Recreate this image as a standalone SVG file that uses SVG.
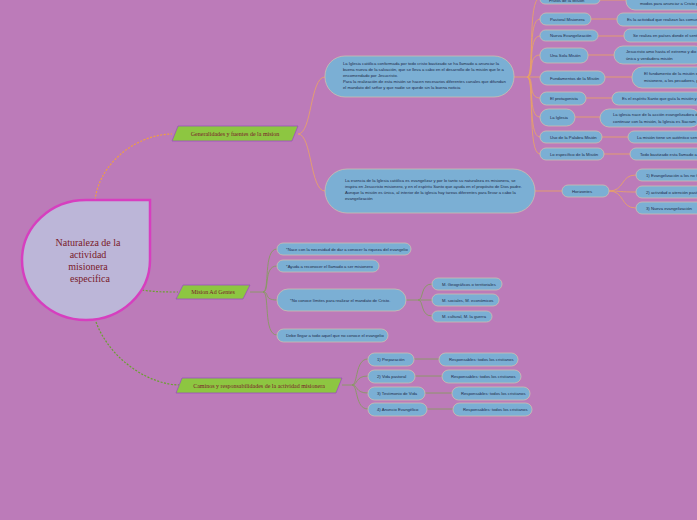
<svg xmlns="http://www.w3.org/2000/svg" width="697" height="520" viewBox="0 0 697 520">
<style>
.b{fill:#7BAFD4;stroke:#cdbfae;stroke-width:0.8}
.g{fill:#8DC641;stroke:#9b4fc0;stroke-width:0.8}
.t{font-family:"Liberation Sans Narrow","Liberation Sans",sans-serif;font-size:4.2px;fill:#1c2a48}
.gt{font-family:"Liberation Serif",serif;font-size:6px;fill:#7a1a2a;text-anchor:middle}
.co{fill:none;stroke:#E6A06A;stroke-width:0.9}
.cg{fill:none;stroke:#889a62;stroke-width:0.9}
</style>
<rect width="697" height="520" fill="#BC7BB9"/>
<g id="connectors">
<path d="M95,200 C100,160 140,134 172,134" fill="none" stroke="#F0A040" stroke-width="1.2" stroke-dasharray="2,1.5"/>
<path d="M142,290 C155,292 165,292 178,292" fill="none" stroke="#6aa030" stroke-width="1.2" stroke-dasharray="2,1.5"/>
<path d="M96,322 C110,360 150,385 180,385" fill="none" stroke="#6aa030" stroke-width="1.2" stroke-dasharray="2,1.5"/>
<path class="co" d="M298,134 C312,134 310,77 325,77 M298,134 C312,134 310,191 325,191"/>
<path class="co" d="M514,77 H527 M527,77 C535,77 527,-2 540,-2 M527,77 C535,77 527,19 540,19 M527,77 C535,77 527,36 540,36 M527,77 C535,77 527,55 540,55 M527,77 H540 M527,77 C535,77 527,98 540,98 M527,77 C535,77 527,117 540,117 M527,77 C535,77 527,137 540,137 M527,77 C535,77 527,154 540,154"/>
<path class="co" d="M600,0 H626 M591,19 H617 M598,36 H624 M588,55 H614 M605,77 H632 M586,98 H612 M575,117 H600 M602,137 H628 M604,154 H630"/>
<path class="co" d="M535,191 H562 M609,191 C625,191 620,175 636,175 M609,191 C620,191 620,192 636,192 M609,191 C625,191 620,208 636,208"/>
<path class="cg" d="M250,292 H263 M263,292 C270,292 263,249 277,249 M263,292 C270,292 263,266 277,266 M263,292 C270,292 263,300 277,300 M263,292 C270,292 263,335 277,335"/>
<path class="cg" d="M406,300 H418 M418,300 C424,300 420,284 432,284 M418,300 H432 M418,300 C424,300 420,316 432,316"/>
<path class="cg" d="M342,385 H352 M352,385 C358,385 355,359 368,359 M352,385 C358,385 355,376 368,376 M352,385 C358,385 355,393 368,393 M352,385 C358,385 355,409 368,409"/>
<path class="cg" d="M414,359 H439 M415,376 H442 M425,393 H452 M427,409 H453"/>
</g>
<g id="central">
<path d="M86,200 H150 V260 A64 60 0 1 1 86,200 Z" fill="#BCB6D8" stroke="#D63FBF" stroke-width="2.5"/>
<text class="gt" style="font-size:10px"><tspan x="88" y="246">Naturaleza de la</tspan><tspan x="88" y="258">actividad</tspan><tspan x="88" y="270">misionera</tspan><tspan x="90" y="282">especifica</tspan></text>
</g>
<g id="generalidades"><polygon class="g" points="178,126 298,126 292,141 172,141"/><text class="gt" x="235" y="136">Generalidades y fuentes de la mision</text></g>
<g id="mision"><polygon class="g" points="183,285 250,285 243,299 176,299"/><text class="gt" x="213" y="294">Mision Ad Gentes</text></g>
<g id="caminos"><polygon class="g" points="182,378 342,378 336,393 176,393"/><text class="gt" x="259" y="388">Caminos y responsabilidades de la actividad misionera</text></g>
<g id="nA"><rect class="b" x="325" y="56" width="189" height="41" rx="20"/><text class="t"><tspan x="343" y="65">La Iglesia católica conformada por todo cristo bautizado se ha llamado a anunciar la</tspan><tspan x="343" y="71">buena nueva de la salvación, que se lleva a cabo en el desarrollo de la misión que le a</tspan><tspan x="343" y="77">encomendado por Jesucristo.</tspan><tspan x="343" y="83">Para la realización de esta misión se hacen necesarios diferentes canales que difundan</tspan><tspan x="343" y="89">el mandato del señor y que nadie se quede sin la buena noticia</tspan></text></g>
<g id="nB"><rect class="b" x="325" y="169" width="210" height="44" rx="22"/><text class="t"><tspan x="345" y="182">La esencia de la Iglesia católica es evangelizar y por lo tanto su naturaleza es misionera, se</tspan><tspan x="345" y="188">inspira en Jesucristo misionero, y en el espíritu Santo que ayuda en el propósito de Dios padre.</tspan><tspan x="345" y="194">Aunque la misión es única, al interior de la iglesia hay tareas diferentes para llevar a cabo la</tspan><tspan x="345" y="200">evangelización</tspan></text></g>
<g id="r0"><rect class="b" x="540" y="-6" width="60" height="10" rx="5"/><text class="t" x="549" y="2">Frutos de la Misión</text><rect class="b" x="626" y="-8" width="80" height="18" rx="9"/><text class="t" x="640" y="5">modos para anunciar a Cristo p</text></g>
<g id="r1"><rect class="b" x="540" y="13" width="51" height="12" rx="6"/><text class="t" x="550" y="20.5">Pastoral Misionera</text><rect class="b" x="617" y="13" width="90" height="13" rx="6"/><text class="t" x="627" y="21">Es la actividad que realizan las comunidades</text></g>
<g id="r2"><rect class="b" x="540" y="30" width="58" height="11" rx="5.5"/><text class="t" x="550" y="37">Nueva Evangelización</text><rect class="b" x="624" y="29" width="80" height="13" rx="6"/><text class="t" x="633" y="37">Se realiza en países donde el sentido</text></g>
<g id="r3"><rect class="b" x="540" y="48" width="48" height="15" rx="7"/><text class="t" x="550" y="57">Una Sola Misión</text><rect class="b" x="614" y="46" width="90" height="18" rx="9"/><text class="t"><tspan x="626" y="53">Jesucristo amo hasta el extremo y dio p</tspan><tspan x="626" y="60">única y verdadera misión</tspan></text></g>
<g id="r4"><rect class="b" x="540" y="71" width="65" height="14" rx="7"/><text class="t" x="550" y="79.5">Fundamentos de la Misión</text><rect class="b" x="632" y="67" width="80" height="21" rx="10"/><text class="t"><tspan x="644" y="75">El fundamento de la misión e</tspan><tspan x="644" y="82">misionero, a los pecadores, pa</tspan></text></g>
<g id="r5"><rect class="b" x="540" y="92" width="46" height="13" rx="6.5"/><text class="t" x="550" y="100">El protagonista</text><rect class="b" x="612" y="92" width="95" height="13" rx="6.5"/><text class="t" x="622" y="100">Es el espíritu Santo que guía la misión y es</text></g>
<g id="r6"><rect class="b" x="540" y="109" width="35" height="17" rx="8.5"/><text class="t" x="550" y="119">La Iglesia</text><rect class="b" x="600" y="109" width="100" height="18" rx="9"/><text class="t"><tspan x="613" y="116">La iglesia nace de la acción evangelizadora de J</tspan><tspan x="613" y="123">continuar con la misión, la Iglesia es Sacram</tspan></text></g>
<g id="r7"><rect class="b" x="540" y="131" width="62" height="12" rx="6"/><text class="t" x="550" y="138.5">Uso de la Palabra Misión</text><rect class="b" x="628" y="131" width="80" height="12" rx="6"/><text class="t" x="637" y="138.5">La misión tiene un auténtico sentido</text></g>
<g id="r8"><rect class="b" x="540" y="148" width="64" height="12" rx="6"/><text class="t" x="550" y="155.5">Lo específico de la Misión</text><rect class="b" x="630" y="148" width="80" height="12" rx="6"/><text class="t" x="640" y="155.5">Todo bautizado esta llamado a</text></g>
<g id="horiz"><rect class="b" x="562" y="185" width="47" height="12" rx="6"/><text class="t" x="572" y="192.5">Horizontes</text>
<rect class="b" x="636" y="169" width="70" height="12" rx="6"/><text class="t" x="646" y="176.5">1) Evangelización a los no Cr</text>
<rect class="b" x="636" y="186" width="70" height="12" rx="6"/><text class="t" x="646" y="193.5">2) actividad o atención pastoral</text>
<rect class="b" x="636" y="202" width="70" height="12" rx="6"/><text class="t" x="646" y="209.5">3) Nueva evangelización</text></g>
<g id="ag1"><rect class="b" x="277" y="243" width="134" height="12" rx="6"/><text class="t" x="286" y="250.5">*Nace con la necesidad de dar a conocer la riqueza del evangelio</text></g>
<g id="ag2"><rect class="b" x="277" y="260" width="102" height="12" rx="6"/><text class="t" x="286" y="267.5">*Ayuda a reconocer el llamado a ser misionero</text></g>
<g id="ag3"><rect class="b" x="277" y="289" width="129" height="22" rx="11"/><text class="t" x="290" y="302">*No conoce límites para realizar el mandato de Cristo.</text></g>
<g id="ag4"><rect class="b" x="277" y="329" width="111" height="13" rx="6.5"/><text class="t" x="286" y="337">Debe llegar a todo aquel que no conoce el evangelio</text></g>
<g id="s1"><rect class="b" x="432" y="278" width="70" height="12" rx="6"/><text class="t" x="442" y="285.5">M. Geográficos o territoriales</text></g>
<g id="s2"><rect class="b" x="432" y="294" width="67" height="12" rx="6"/><text class="t" x="442" y="301.5">M. sociales, M. económicos</text></g>
<g id="s3"><rect class="b" x="432" y="311" width="60" height="11" rx="5.5"/><text class="t" x="442" y="318">M. cultural, M. la guerra</text></g>
<g id="c1"><rect class="b" x="368" y="353" width="46" height="13" rx="6.5"/><text class="t" x="377" y="361">1) Preparación</text><rect class="b" x="439" y="353" width="79" height="13" rx="6.5"/><text class="t" x="449" y="361">Responsables: todos los cristianos</text></g>
<g id="c2"><rect class="b" x="368" y="370" width="47" height="13" rx="6.5"/><text class="t" x="377" y="378">2) Vida pastoral</text><rect class="b" x="442" y="370" width="79" height="13" rx="6.5"/><text class="t" x="451" y="378">Responsables: todos los cristianos</text></g>
<g id="c3"><rect class="b" x="368" y="387" width="57" height="13" rx="6.5"/><text class="t" x="377" y="395">3) Testimonio de Vida</text><rect class="b" x="452" y="387" width="78" height="13" rx="6.5"/><text class="t" x="461" y="395">Responsables: todos los cristianos</text></g>
<g id="c4"><rect class="b" x="368" y="403" width="59" height="13" rx="6.5"/><text class="t" x="377" y="411">4) Anuncio Evangélico</text><rect class="b" x="453" y="403" width="79" height="13" rx="6.5"/><text class="t" x="463" y="411">Responsables: todos los cristianos</text></g>
</svg>
